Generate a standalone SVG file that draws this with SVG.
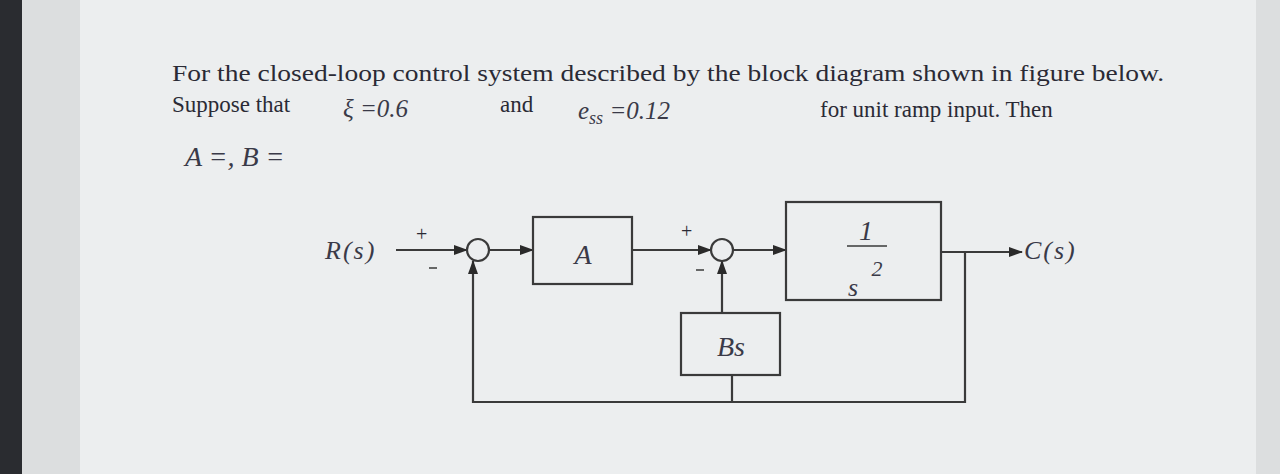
<svg xmlns="http://www.w3.org/2000/svg" width="1280" height="474" viewBox="0 0 1280 474">
<style>
.t{font-family:"Liberation Serif",serif;fill:#2a2a35}
.i{font-family:"Liberation Serif",serif;font-style:italic;fill:#3a3a48}
.b{fill:none;stroke:#3a3a3a;stroke-width:2.2}
.l{fill:none;stroke:#3a3a3a;stroke-width:2.2}
</style>
<defs><marker id="a" markerWidth="14" markerHeight="10" refX="13" refY="5" orient="auto" markerUnits="userSpaceOnUse"><path d="M0,0L14,5L0,10z" fill="#2a2a2a"/></marker></defs>
<rect width="1280" height="474" fill="#dcdedf"/>
<rect x="0" width="22" height="474" fill="#2a2c30"/>
<rect x="80" y="0" width="1176" height="474" fill="#eceeef"/>
<text class="t" x="172" y="81" font-size="23" textLength="992" lengthAdjust="spacingAndGlyphs">For the closed-loop control system described by the block diagram shown in figure below.</text>
<text class="t" x="172" y="112" font-size="23">Suppose that</text>
<text class="i" x="343" y="117" font-size="25">ξ =0.6</text>
<text class="t" x="500" y="112" font-size="23">and</text>
<text class="i" x="578" y="119" font-size="25">e<tspan font-size="18" dy="5">ss</tspan><tspan dy="-5"> =0.12</tspan></text>
<text class="t" x="820" y="117" font-size="23">for unit ramp input. Then</text>
<text class="i" x="185" y="166" font-size="28">A =,  B =</text>
<g id="connectors">
<path class="l" d="M396,250H467" marker-end="url(#a)"/>
<path class="l" d="M489,250H533" marker-end="url(#a)"/>
<path class="l" d="M632,250H711" marker-end="url(#a)"/>
<path class="l" d="M733,250H786" marker-end="url(#a)"/>
<path class="l" d="M941,252H1022" marker-end="url(#a)"/>
<path class="l" d="M965,252V402H473V261" marker-end="url(#a)"/>
<path class="l" d="M722,313V261" marker-end="url(#a)"/>
<path class="l" d="M732,375V402"/>
</g>
<g id="R"><text class="i" x="325" y="259" font-size="26" letter-spacing="2">R(s)</text>
<text class="t" x="416" y="241" font-size="20">+</text><path d="M429,268h8" stroke="#3a3a3a" stroke-width="1.5"/></g>
<g id="sum1"><circle class="b" cx="478" cy="250" r="11"/></g>
<g id="blockA"><rect class="b" x="533" y="217" width="99" height="67"/><text class="i" x="583" y="264" font-size="28" text-anchor="middle">A</text></g>
<g id="sum2"><circle class="b" cx="722" cy="250" r="11"/>
<text class="t" x="681" y="238" font-size="20">+</text><path d="M696,270h8" stroke="#3a3a3a" stroke-width="1.5"/></g>
<g id="plant"><rect class="b" x="786" y="202" width="155" height="98"/>
<text class="i" x="866" y="240" font-size="28" text-anchor="middle">1</text>
<path d="M847,246H887" stroke="#3a3a3a" stroke-width="1.5"/>
<text class="i" x="853" y="296" font-size="26" text-anchor="middle">s</text>
<text class="i" x="877" y="276" font-size="22" text-anchor="middle">2</text></g>
<g id="Bs"><rect class="b" x="681" y="313" width="99" height="62"/><text class="i" x="731" y="356" font-size="28" text-anchor="middle">Bs</text></g>
<g id="C"><text class="i" x="1024" y="259" font-size="26" letter-spacing="2">C(s)</text></g>
</svg>
